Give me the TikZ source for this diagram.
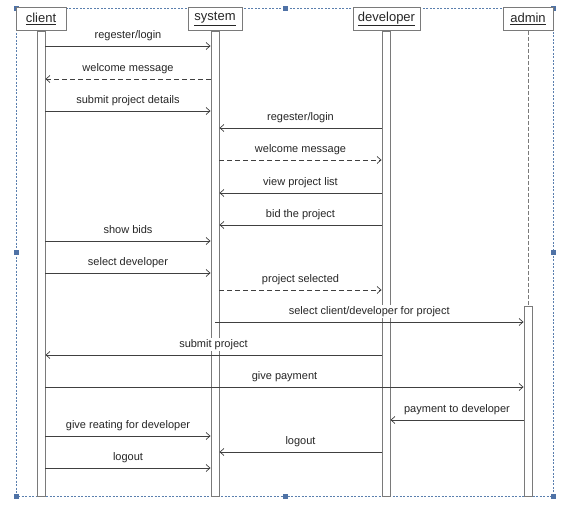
\documentclass[tikz,border=0pt]{standalone}
\usepackage{fontspec}
\setmainfont{Liberation Sans}
\usepackage{tikz}
\usetikzlibrary{arrows.meta, positioning}
\definecolor{framecol}{HTML}{5A7FAE}
\definecolor{handlecol}{HTML}{4F72A6}
\definecolor{linecol}{HTML}{404040}
\definecolor{barcol}{HTML}{7A7A7A}
\tikzset{
    % styles for the sequence diagram
    lifehead/.style = {rectangle, draw=barcol, line width=0.8pt, fill=white, minimum height=23pt, inner sep=2pt, font=\fontsize{13}{15}\selectfont, text=black!85},
    actbar/.style = {rectangle, draw=barcol, line width=0.9pt, fill=white, minimum width=8pt, inner sep=0pt},
    msg/.style = {draw=linecol, line width=0.7pt, -{Straight Barb[length=4pt, width=7pt]}},
    reply/.style = {msg, dash pattern=on 5pt off 3pt},
    msglabel/.style = {fill=white, inner sep=1pt, text height=8pt, text depth=2.5pt, font=\fontsize{11}{13}\selectfont, text=black!85},
    handle/.style = {rectangle, fill=handlecol, minimum size=5pt, inner sep=0pt}
}
\begin{document}
\begin{tikzpicture}[x=1pt, y=-1pt]
\useasboundingbox (0,0) rectangle (568,507);

% selection frame
\draw[framecol, line width=0.5pt, dash pattern=on 2pt off 1.5pt] (16,8) rectangle (553,496);
\foreach \hx/\hy [count=\i] in {16/8, 285/8, 553/8, 16/252, 553/252, 16/496, 285/496, 553/496}
    \node[handle] (h\i) at (\hx,\hy) {};

% Nodes
\node[lifehead, minimum width=50pt] (client) at (41,19) {\underline{client}};
\node[lifehead, minimum width=54pt] (system) at (215,19) {\underline{system}};
\node[lifehead, minimum width=67pt] (developer) at (386.5,19) {\underline{developer}};
\node[lifehead, minimum width=50pt] (admin) at (528,19) {\underline{admin}};

\node[actbar, minimum height=465pt, anchor=north] (cbar) at (41,31) {};
\node[actbar, minimum height=465pt, anchor=north] (sbar) at (215,31) {};
\node[actbar, minimum height=465pt, anchor=north] (dbar) at (386,31) {};
\node[actbar, minimum height=190pt, anchor=north] (abar) at (528,306) {};
\draw[barcol, line width=0.7pt, dash pattern=on 4pt off 2pt] (admin.south) -- (abar.north);

% Arrows
\foreach \y/\src/\dst/\txt/\kind in {
    46/cbar.east/sbar.west/{regester/login}/msg,
    79/sbar.west/cbar.east/{welcome message}/reply,
    111/cbar.east/sbar.west/{submit project details}/msg,
    128/dbar.west/sbar.east/{regester/login}/msg,
    160/sbar.east/dbar.west/{welcome message}/reply,
    193/dbar.west/sbar.east/{view project list}/msg,
    225/dbar.west/sbar.east/{bid the project}/msg,
    241/cbar.east/sbar.west/{show bids}/msg,
    273/cbar.east/sbar.west/{select developer}/msg,
    290/sbar.east/dbar.west/{project selected}/reply,
    322/sbar.center/abar.west/{select client/developer for project}/msg,
    355/dbar.west/cbar.east/{submit project}/msg,
    387/cbar.east/abar.west/{give payment}/msg,
    420/abar.west/dbar.east/{payment to developer}/msg,
    436/cbar.east/sbar.west/{give reating for developer}/msg,
    452/dbar.west/sbar.east/{logout}/msg,
    468/cbar.east/sbar.west/{logout}/msg}
    \draw[\kind] (\src |- 0,\y) -- node[msglabel, above=4pt] {\txt} (\dst |- 0,\y);

\end{tikzpicture}
\end{document}
